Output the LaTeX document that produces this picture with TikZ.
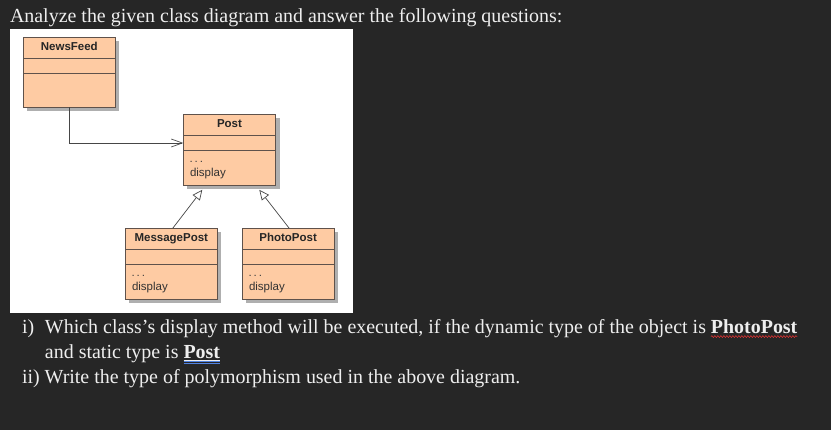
\documentclass[tikz,border=0pt]{standalone}
\usepackage{fontspec}
\setmainfont{Liberation Serif}
\newfontfamily\arialf{Liberation Sans}
\usetikzlibrary{arrows.meta,calc,decorations.pathmorphing}

\definecolor{bgdark}{RGB}{38,38,38}
\definecolor{peach}{RGB}{254,203,163}
\definecolor{boxborder}{RGB}{95,82,75}
\definecolor{shadowgray}{RGB}{175,175,175}
\definecolor{linegray}{RGB}{70,70,70}
\definecolor{qwhite}{RGB}{238,238,238}
\definecolor{spellred}{RGB}{215,50,50}
\definecolor{grammarblue}{RGB}{80,130,225}

\tikzset{
  classbox/.style={draw=boxborder, fill=peach, line width=0.8pt, inner sep=0pt, outer sep=0pt},
  classtitle/.style={font=\arialf\bfseries\fontsize{11.5}{13}\selectfont, text=black!85, inner sep=0pt, anchor=base},
  classop/.style={font=\arialf\fontsize{11.5}{13}\selectfont, text=black!80, inner sep=0pt, anchor=base west},
  classdots/.style={font=\arialf\bfseries\fontsize{8}{9}\selectfont, text=black!75, inner sep=0pt, anchor=base west},
  divider/.style={draw=boxborder, line width=0.8pt},
  assoc/.style={draw=linegray, line width=0.7pt, -{Straight Barb[length=11pt,width=8pt,line width=0.7pt]}},
  inherit/.style={draw=linegray, line width=0.7pt, -{Triangle[open,length=10pt,width=9pt,line width=0.7pt,fill=white]}},
  qtext/.style={font=\fontsize{19.95}{23}\selectfont, text=qwhite, inner sep=0pt, outer sep=0pt, anchor=base west},
}

\newcommand\umlclassbox[7]{% name, x, y, w, h, title, ops?
  \fill[shadowgray] (#2+4,#3+4) rectangle (#2+#4+4,#3+#5+4);
  \node[classbox, minimum width=#4pt, minimum height=#5pt, anchor=north west] (#1) at (#2,#3) {};
  \draw[divider] ($(#1.north west)+(0,21)$) -- ($(#1.north east)+(0,21)$);
  \draw[divider] ($(#1.north west)+(0,36.3)$) -- ($(#1.north east)+(0,36.3)$);
  \node[classtitle] (#1-title) at ($(#1.north)+(0,13.6)$) {#6};
  \ifx&#7&\else
    \node[classdots] (#1-dots) at ($(#1.north west)+(6.5,48.5)$) {. . .};
    \node[classop] (#1-op) at ($(#1.north west)+(6.5,62)$) {#7};
  \fi
}

\begin{document}
\begin{tikzpicture}[x=1pt,y=-1pt]
\useasboundingbox (0,0) rectangle (831,430);
\fill[bgdark] (0,0) rectangle (831,430);
\fill[white] (10,29) rectangle (353,313);

\umlclassbox{nf}{23.3}{37}{92}{70.3}{NewsFeed}{}
\umlclassbox{post}{183.3}{114.3}{92.4}{70.7}{Post}{display}
\umlclassbox{mp}{125.3}{228.3}{92}{70.7}{MessagePost}{display}
\umlclassbox{pp}{242.3}{228.3}{91.7}{70.7}{PhotoPost}{display}

\coordinate (postin) at ($(post.north west)+(0,28.7)$);
\coordinate (postbl) at ($(post.south)+(-27.2,4.8)$);
\coordinate (postbr) at ($(post.south)+(29.8,4.8)$);
\coordinate (mptop) at ($(mp.north)+(1.4,0)$);
\coordinate (pptop) at ($(pp.north)+(1.1,0)$);

\draw[assoc] (nf.south) |- (postin);
\draw[inherit] (mptop) -- (postbl);
\draw[inherit] (pptop) -- (postbr);

\node[qtext] (title) at (10,22.7) {Analyze the given class diagram and answer the following questions:};

\node[qtext] (q1num) at (22,334) {i)};
\node[qtext] (q1a) at (45,334) {Which class’s display method will be executed, if the dynamic type of the object is};
\node[qtext] (q1b) at ($(q1a.base east)+(5,0)$) {\bfseries PhotoPost};
\node[qtext] (q1c) at (45,359) {and static type is};
\node[qtext] (q1d) at ($(q1c.base east)+(5,0)$) {\bfseries Post};
\node[qtext] (q2) at (22,384) {ii) Write the type of polymorphism used in the above diagram.};

\draw[spellred, line width=0.6pt, decorate, decoration={snake, segment length=3pt, amplitude=0.9pt}] ($(q1b.base west)+(0,2.6)$) -- ($(q1b.base east)+(0,2.6)$);
\draw[qwhite, line width=0.8pt] ($(q1d.base west)+(0,1.6)$) -- ($(q1d.base east)+(0,1.6)$);
\draw[grammarblue, line width=0.8pt] ($(q1d.base west)+(0,2.8)$) -- ($(q1d.base east)+(0,2.8)$);
\draw[grammarblue, line width=0.8pt] ($(q1d.base west)+(0,4.3)$) -- ($(q1d.base east)+(0,4.3)$);
\end{tikzpicture}
\end{document}
